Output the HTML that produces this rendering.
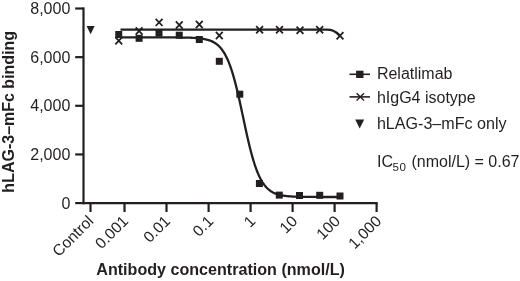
<!DOCTYPE html>
<html lang="en"><head><meta charset="utf-8"><title>Figure</title>
<style>html,body{margin:0;padding:0;background:#fff}svg{display:block}</style></head>
<body>
<svg width="520" height="281" viewBox="0 0 520 281" font-family="'Liberation Sans', Arial, sans-serif" fill="#231f20">
<rect width="520" height="281" fill="#fff"/>
<g stroke="#231f20" stroke-width="2.2" fill="none" stroke-linecap="butt">
<path d="M83.5,7.4 V204.2"/>
<path d="M82.4,203.1 H377.7"/>
<path d="M75.2,203.1 H83.5"/>
<path d="M75.2,154.45 H83.5"/>
<path d="M75.2,105.8 H83.5"/>
<path d="M75.2,57.150000000000006 H83.5"/>
<path d="M75.2,8.5 H83.5"/>
<path d="M90.5,203.1 V212"/>
<path d="M124.5,203.1 V212"/>
<path d="M166.5,203.1 V212"/>
<path d="M208.6,203.1 V212"/>
<path d="M250.6,203.1 V212"/>
<path d="M292.6,203.1 V212"/>
<path d="M334.6,203.1 V212"/>
<path d="M376.6,203.1 V212"/>
</g>
<text x="70.3" y="208.6" font-size="16" text-anchor="end">0</text>
<text x="70.3" y="159.9" font-size="16" text-anchor="end">2,000</text>
<text x="70.3" y="111.3" font-size="16" text-anchor="end">4,000</text>
<text x="70.3" y="62.7" font-size="16" text-anchor="end">6,000</text>
<text x="70.3" y="14.0" font-size="16" text-anchor="end">8,000</text>
<text transform="translate(94.4,222.0) rotate(-45)" font-size="15.6" text-anchor="end">Control</text>
<text transform="translate(129.2,222.1) rotate(-45)" font-size="15.6" text-anchor="end">0.001</text>
<text transform="translate(171.2,222.1) rotate(-45)" font-size="15.6" text-anchor="end">0.01</text>
<text transform="translate(214.3,222.1) rotate(-45)" font-size="15.6" text-anchor="end">0.1</text>
<text transform="translate(256.3,222.1) rotate(-45)" font-size="15.6" text-anchor="end">1</text>
<text transform="translate(298.3,222.1) rotate(-45)" font-size="15.6" text-anchor="end">10</text>
<text transform="translate(341.1,222.1) rotate(-45)" font-size="15.6" text-anchor="end">100</text>
<text transform="translate(382.3,222.1) rotate(-45)" font-size="15.6" text-anchor="end">1,000</text>
<text transform="translate(14,111.75) rotate(-90)" font-size="16" font-weight="bold" text-anchor="middle">hLAG-3–mFc binding</text>
<text x="220.6" y="274.5" font-size="16.1" font-weight="bold" text-anchor="middle">Antibody concentration (nmol/L)</text>
<g stroke="#231f20" stroke-width="2.3" fill="none" stroke-linejoin="round">
<path d="M120.5,37.40 L121.5,37.40 L122.5,37.40 L123.5,37.40 L124.5,37.40 L125.5,37.40 L126.5,37.40 L127.5,37.40 L128.5,37.40 L129.5,37.40 L130.5,37.40 L131.5,37.40 L132.5,37.40 L133.5,37.40 L134.5,37.40 L135.5,37.40 L136.5,37.40 L137.5,37.40 L138.5,37.40 L139.5,37.40 L140.5,37.40 L141.5,37.40 L142.5,37.40 L143.5,37.40 L144.5,37.40 L145.5,37.40 L146.5,37.40 L147.5,37.40 L148.5,37.40 L149.5,37.40 L150.5,37.40 L151.5,37.40 L152.5,37.40 L153.5,37.40 L154.5,37.40 L155.5,37.41 L156.5,37.41 L157.5,37.41 L158.5,37.41 L159.5,37.41 L160.5,37.41 L161.5,37.41 L162.5,37.41 L163.5,37.41 L164.5,37.42 L165.5,37.42 L166.5,37.42 L167.5,37.42 L168.5,37.42 L169.5,37.43 L170.5,37.43 L171.5,37.43 L172.5,37.44 L173.5,37.44 L174.5,37.45 L175.5,37.46 L176.5,37.46 L177.5,37.47 L178.5,37.48 L179.5,37.49 L180.5,37.50 L181.5,37.51 L182.5,37.53 L183.5,37.54 L184.5,37.56 L185.5,37.58 L186.5,37.60 L187.5,37.63 L188.5,37.66 L189.5,37.69 L190.5,37.72 L191.5,37.76 L192.5,37.81 L193.5,37.86 L194.5,37.92 L195.5,37.98 L196.5,38.05 L197.5,38.14 L198.5,38.23 L199.5,38.33 L200.5,38.45 L201.5,38.58 L202.5,38.72 L203.5,38.89 L204.5,39.07 L205.5,39.28 L206.5,39.51 L207.5,39.77 L208.5,40.06 L209.5,40.38 L210.5,40.75 L211.5,41.16 L212.5,41.62 L213.5,42.13 L214.5,42.70 L215.5,43.34 L216.5,44.05 L217.5,44.84 L218.5,45.73 L219.5,46.71 L220.5,47.80 L221.5,49.00 L222.5,50.34 L223.5,51.81 L224.5,53.43 L225.5,55.21 L226.5,57.16 L227.5,59.30 L228.5,61.62 L229.5,64.14 L230.5,66.87 L231.5,69.81 L232.5,72.96 L233.5,76.32 L234.5,79.89 L235.5,83.67 L236.5,87.64 L237.5,91.78 L238.5,96.08 L239.5,100.52 L240.5,105.07 L241.5,109.70 L242.5,114.38 L243.5,119.08 L244.5,123.77 L245.5,128.41 L246.5,132.98 L247.5,137.44 L248.5,141.77 L249.5,145.95 L250.5,149.95 L251.5,153.77 L252.5,157.38 L253.5,160.79 L254.5,163.98 L255.5,166.96 L256.5,169.73 L257.5,172.29 L258.5,174.65 L259.5,176.82 L260.5,178.81 L261.5,180.63 L262.5,182.28 L263.5,183.78 L264.5,185.14 L265.5,186.37 L266.5,187.48 L267.5,188.49 L268.5,189.39 L269.5,190.20 L270.5,190.92 L271.5,191.58 L272.5,192.16 L273.5,192.69 L274.5,193.15 L275.5,193.57 L276.5,193.95 L277.5,194.28 L278.5,194.58 L279.5,194.84 L280.5,195.08 L281.5,195.29 L282.5,195.48 L283.5,195.65 L284.5,195.80 L285.5,195.93 L286.5,196.05 L287.5,196.15 L288.5,196.25 L289.5,196.33 L290.5,196.40 L291.5,196.47 L292.5,196.53 L293.5,196.58 L294.5,196.63 L295.5,196.67 L296.5,196.71 L297.5,196.74 L298.5,196.77 L299.5,196.79 L300.5,196.82 L301.5,196.84 L302.5,196.85 L303.5,196.87 L304.5,196.89 L305.5,196.90 L306.5,196.91 L307.5,196.92 L308.5,196.93 L309.5,196.94 L310.5,196.94 L311.5,196.95 L312.5,196.96 L313.5,196.96 L314.5,196.96 L315.5,196.97 L316.5,196.97 L317.5,196.98 L318.5,196.98 L319.5,196.98 L320.5,196.98 L321.5,196.98 L322.5,196.99 L323.5,196.99 L324.5,196.99 L325.5,196.99 L326.5,196.99 L327.5,196.99 L328.5,196.99 L329.5,196.99 L330.5,196.99 L331.5,197.00 L332.5,197.00 L333.5,197.00 L334.5,197.00 L335.5,197.00 L336.5,197.00 L337.5,197.00 L338.5,197.00 L339.5,197.00"/>
<path d="M120.5,29.7 H326 C333,29.7 335,31 340,35.8"/>
</g>
<rect x="115.25" y="31.00" width="7" height="7"/>
<rect x="135.60" y="34.80" width="7" height="7"/>
<rect x="155.50" y="29.70" width="7" height="7"/>
<rect x="175.75" y="31.70" width="7" height="7"/>
<rect x="195.80" y="36.00" width="7" height="7"/>
<rect x="215.80" y="57.80" width="7" height="7"/>
<rect x="236.30" y="90.70" width="7" height="7"/>
<rect x="255.90" y="180.00" width="7" height="7"/>
<rect x="275.80" y="191.60" width="7" height="7"/>
<rect x="296.00" y="192.00" width="7" height="7"/>
<rect x="316.20" y="191.80" width="7" height="7"/>
<rect x="336.50" y="192.50" width="7" height="7"/>
<g stroke="#231f20" stroke-width="1.8" fill="none">
<path d="M115.35,37.15 L122.15,44.35 M115.35,44.35 L122.15,37.15"/>
<path d="M135.70,27.40 L142.50,34.60 M135.70,34.60 L142.50,27.40"/>
<path d="M155.70,18.80 L162.50,26.00 M155.70,26.00 L162.50,18.80"/>
<path d="M175.85,21.40 L182.65,28.60 M175.85,28.60 L182.65,21.40"/>
<path d="M195.90,20.90 L202.70,28.10 M195.90,28.10 L202.70,20.90"/>
<path d="M215.90,31.90 L222.70,39.10 M215.90,39.10 L222.70,31.90"/>
<path d="M256.20,26.10 L263.00,33.30 M256.20,33.30 L263.00,26.10"/>
<path d="M276.10,26.10 L282.90,33.30 M276.10,33.30 L282.90,26.10"/>
<path d="M296.60,26.70 L303.40,33.90 M296.60,33.90 L303.40,26.70"/>
<path d="M316.30,26.10 L323.10,33.30 M316.30,33.30 L323.10,26.10"/>
<path d="M336.60,32.20 L343.40,39.40 M336.60,39.40 L343.40,32.20"/>
</g>
<path d="M86.6,26 H94.6 L90.6,34.2 Z"/>
<path d="M349.5,74.3 H370" stroke="#231f20" stroke-width="1.6"/>
<rect x="356.1" y="70.7" width="7.4" height="7.3"/>
<path d="M349.5,96.9 H370" stroke="#231f20" stroke-width="1.6"/>
<path d="M356.6,93.3 L364,100.5 M356.6,100.5 L364,93.3" stroke="#231f20" stroke-width="1.4" fill="none"/>
<path d="M355.2,119.6 H364.2 L359.7,128.6 Z"/>
<text x="376.9" y="78.6" font-size="16">Relatlimab</text>
<text x="376.9" y="103" font-size="16">hIgG4 isotype</text>
<text x="376.9" y="128.5" font-size="16.1">hLAG-3–mFc only</text>
<text x="377" y="166.7" font-size="16">IC<tspan x="392.6" font-size="11.6" dy="4.2" letter-spacing="0.4">50</tspan><tspan x="407" dy="-4.2"> (nmol/L) = 0.67</tspan></text>
</svg>
</body></html>
